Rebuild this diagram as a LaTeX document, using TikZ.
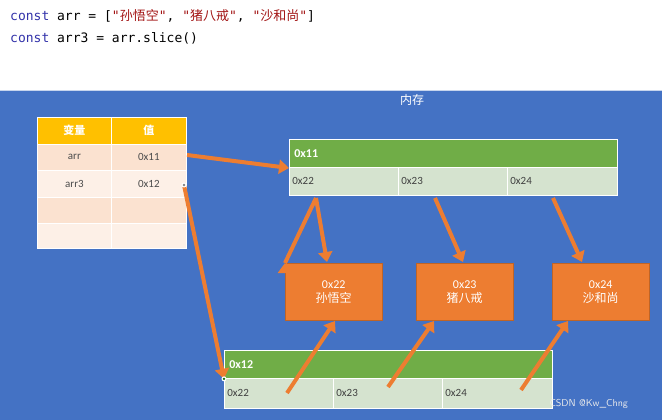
\documentclass[tikz,border=0pt]{standalone}
\usepackage{fontspec}
\setmainfont{Carlito}
\setmonofont{DejaVu Sans Mono}
\newfontfamily\cjk{Noto Sans CJK SC}
\usetikzlibrary{arrows.meta}
\definecolor{bg}{HTML}{4472C4}
\definecolor{gold}{HTML}{FFC000}
\definecolor{grn}{HTML}{70AD47}
\definecolor{cellc}{HTML}{D5E3CF}
\definecolor{org}{HTML}{ED7D31}
\definecolor{rowa}{HTML}{FBE2D0}
\definecolor{rowb}{HTML}{FDF0E7}
\definecolor{kw}{HTML}{3333AA}
\definecolor{str}{HTML}{A31515}
\tikzset{
 cell/.style={draw=white,line width=0.8pt,fill=cellc,anchor=north west,minimum height=28pt,inner sep=0pt,text=black!75,font=\fontsize{11}{12}\selectfont,align=left},
 head/.style={draw=white,line width=0.8pt,fill=grn,anchor=north west,minimum height=28pt,inner sep=0pt,text=white,font=\bfseries\fontsize{12}{13}\selectfont},
 box/.style={draw=org!80!black,fill=org,anchor=north west,minimum width=97pt,minimum height=57pt,text=white,align=center,font=\fontsize{12}{14}\selectfont},
 tc/.style={draw=white,line width=0.8pt,anchor=north west,minimum height=26.5pt,inner sep=0pt,text=black!70,font=\fontsize{11}{12}\selectfont},
 arr/.style={draw=org,line width=4pt,-{Triangle[length=10pt,width=14pt]}}
}
\begin{document}
\begin{tikzpicture}[x=1pt,y=-1pt]
\useasboundingbox (0,0) rectangle (662,420);
\fill[white] (0,0) rectangle (662,420);
\node[anchor=base west,font=\ttfamily\fontsize{13}{14}\selectfont,inner sep=0] (c1) at (10,21) {\textcolor{kw}{const} arr = [\textcolor{str}{"{\cjk 孙悟空}"}, \textcolor{str}{"{\cjk 猪八戒}"}, \textcolor{str}{"{\cjk 沙和尚}"}]};
\node[anchor=base west,font=\ttfamily\fontsize{13}{14}\selectfont,inner sep=0] (c2) at (10,43) {\textcolor{kw}{const} arr3 = arr.slice()};
\fill[bg] (0,90) rectangle (662,420);
\draw[white!70!bg] (0,90) -- (662,90);
\node[text=white,font=\cjk\fontsize{12}{13}\selectfont] (mem) at (412,100) {内存};
% table
\node[tc,fill=gold,minimum width=74pt,text=white,font=\cjk\bfseries\fontsize{11}{12}\selectfont] (h1) at (37,117) {变量};
\node[tc,fill=gold,minimum width=75pt,text=white,font=\cjk\bfseries\fontsize{11}{12}\selectfont] (h2) at (111,117) {值};
\node[tc,fill=rowa,minimum width=74pt] (r1a) at (37,143.5) {arr};
\node[tc,fill=rowa,minimum width=75pt] (r1b) at (111,143.5) {0x11};
\node[tc,fill=rowb,minimum width=74pt] (r2a) at (37,170) {arr3};
\node[tc,fill=rowb,minimum width=75pt] (r2b) at (111,170) {0x12};
\node[tc,fill=rowa,minimum width=74pt] (r3a) at (37,196.5) {};
\node[tc,fill=rowa,minimum width=75pt] (r3b) at (111,196.5) {};
\node[tc,fill=rowb,minimum width=74pt,minimum height=25pt] (r4a) at (37,223) {};
\node[tc,fill=rowb,minimum width=75pt,minimum height=25pt] (r4b) at (111,223) {};
% array 0x11
\node[head,minimum width=328pt,text width=318pt,align=left] (a1) at (289,139) {0x11};
\node[cell,minimum width=109pt,text width=103pt] (a1c1) at (289,167) {0x22};
\node[cell,minimum width=109pt,text width=103pt] (a1c2) at (398,167) {0x23};
\node[cell,minimum width=110pt,text width=104pt] (a1c3) at (507,167) {0x24};
% array 0x12
\node[head,minimum width=328pt,text width=318pt,align=left] (a2) at (224,350) {0x12};
\node[cell,minimum width=109pt,text width=103pt,minimum height=30pt] (a2c1) at (224,378) {0x22};
\node[cell,minimum width=109pt,text width=103pt,minimum height=30pt] (a2c2) at (333,378) {0x23};
\node[cell,minimum width=110pt,text width=104pt,minimum height=30pt] (a2c3) at (442,378) {0x24};
% boxes
\node[box] (b1) at (285,263) {0x22\\{\cjk 孙悟空}};
\node[box] (b2) at (416,263) {0x23\\{\cjk 猪八戒}};
\node[box] (b3) at (552,263) {0x24\\{\cjk 沙和尚}};
% arrows
\coordinate (p1) at (187,155);
\coordinate (p2) at (184,185);
\draw[arr] (p1) -- (a1.west |- 0,168);
\draw[arr] (p2) -- (a2.south west);
\fill[white] (p2) circle (2.5pt); \fill[black!50] (p2) circle (1.3pt);
\fill[white] (a2.south west) circle (2.5pt); \fill[green!40!black] (a2.south west) circle (1.3pt);
\coordinate (d1) at (316,198); \coordinate (d2) at (435,198); \coordinate (d3) at (553,198);
\draw[arr] (d1) -- (b1.north west) ++(0,0);
\draw[arr] (d1) -- (327,262);
\draw[arr] (d2) -- (463,262);
\draw[arr] (d3) -- (582,262);
\coordinate (u1) at (287,393); \coordinate (u2) at (388,387); \coordinate (u3) at (521,390);
\draw[arr] (u1) -- (335,321);
\draw[arr] (u2) -- (434,321);
\draw[arr] (u3) -- (568,321);
\node[anchor=base west,text=white!85!gray,font=\fontsize{10}{11}\selectfont\sffamily] (wm) at (546,406) {CSDN @Kw\_Chng};
\end{tikzpicture}
\end{document}
